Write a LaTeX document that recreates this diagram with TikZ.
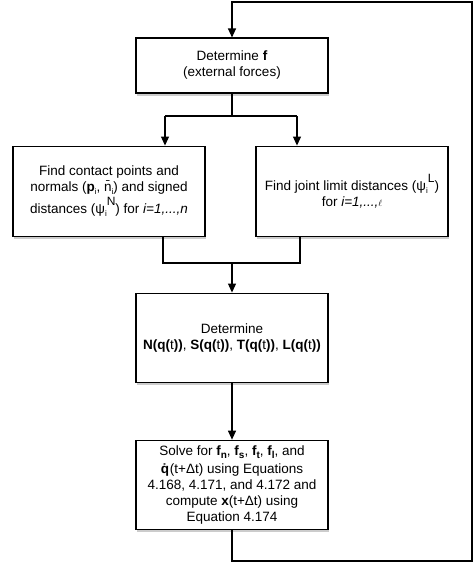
\documentclass[tikz,border=0pt]{standalone}
\usepackage{fontspec}
\setmainfont{Liberation Sans}
\usepackage{amssymb}
\usepackage{amsmath}
\usetikzlibrary{positioning}
\usetikzlibrary{arrows.meta}
\usetikzlibrary{shadows}

\newcommand{\lo}[1]{\raisebox{-0.45ex}{\fontsize{8}{8}\selectfont #1}}
\newcommand{\hi}[1]{\raisebox{1.1ex}{\fontsize{12}{12}\selectfont #1}}
\newcommand{\blo}[1]{\raisebox{-0.45ex}{\fontsize{10}{10}\selectfont\bfseries #1}}

\begin{document}
\begin{tikzpicture}[
x=1pt, y=1pt,
stepbox/.style={rectangle, draw, line width=1.1pt, fill=white, minimum width=192pt,
  align=center, font=\fontsize{13.5}{16}\selectfont,
  drop shadow={shadow xshift=1pt, shadow yshift=-3pt, opacity=0.4}},
flow/.style={-{Triangle[length=9pt,width=8pt]}},
every path/.style={line width=1.1pt},
]
\useasboundingbox (0,0) rectangle (474,-563);

%Nodes
\node[stepbox, minimum height=55pt] (force) at (232,-65.5)
  {Determine \textbf{f}\\(external forces)};
\node[stepbox, minimum height=90pt, below=52pt of force.south, xshift=-123pt] (contact)
  {Find contact points and\\
   normals (\textbf{p}\lo{i}, \={n}\lo{i}) and signed\\[1pt]
   distances (ψ\lo{i}\hi{N}) for \textit{i=1,...,n}};
\node[stepbox, minimum height=90pt, below=52pt of force.south, xshift=120pt] (joint)
  {Find joint limit distances (ψ\lo{i}\hi{L})\\
   for \textit{i=1,...,}$\scriptstyle\ell$};
\node[stepbox, minimum height=89pt, below=199pt of force] (mats)
  {Determine\\
   \textbf{N(q(}t\textbf{))}, \textbf{S(q(}t\textbf{))}, \textbf{T(q(}t\textbf{))}, \textbf{L(q(}t\textbf{))}};
\node[stepbox, minimum height=89pt, below=57pt of mats] (solve)
  {Solve for \textbf{f}\blo{n}, \textbf{f}\blo{s}, \textbf{f}\blo{t}, \textbf{f}\blo{l}, and\\[2pt]
   \textbf{\.{q}}(t+Δt) using Equations\\
   4.168, 4.171, and 4.172 and\\
   compute \textbf{x}(t+Δt) using\\
   Equation 4.174};

%Coordinates
\coordinate (splitL) at (165,-116);
\coordinate (splitR) at (297,-116);
\coordinate (mergeL) at (163,-263);
\coordinate (mergeR) at (300,-263);
\coordinate (loopB)  at (472,-561);
\coordinate (loopT)  at (472,-2);

%Lines
\draw (force.south) -- (force.south |- splitL);
\draw (splitL) -- (splitR);
\draw[flow] (splitL) -- (splitL |- contact.north);
\draw[flow] (splitR) -- (splitR |- joint.north);
\draw (mergeL |- contact.south) -- (mergeL) -- (mergeR) -- (mergeR |- joint.south);
\draw[flow] (mats.north |- mergeL) -- (mats.north);
\draw[flow] (mats.south) -- (solve.north);
\draw[flow] (solve.south) -- (solve.south |- loopB) -- (loopB) -- (loopT)
  -- (force.north |- loopT) -- (force.north);
\end{tikzpicture}
\end{document}
